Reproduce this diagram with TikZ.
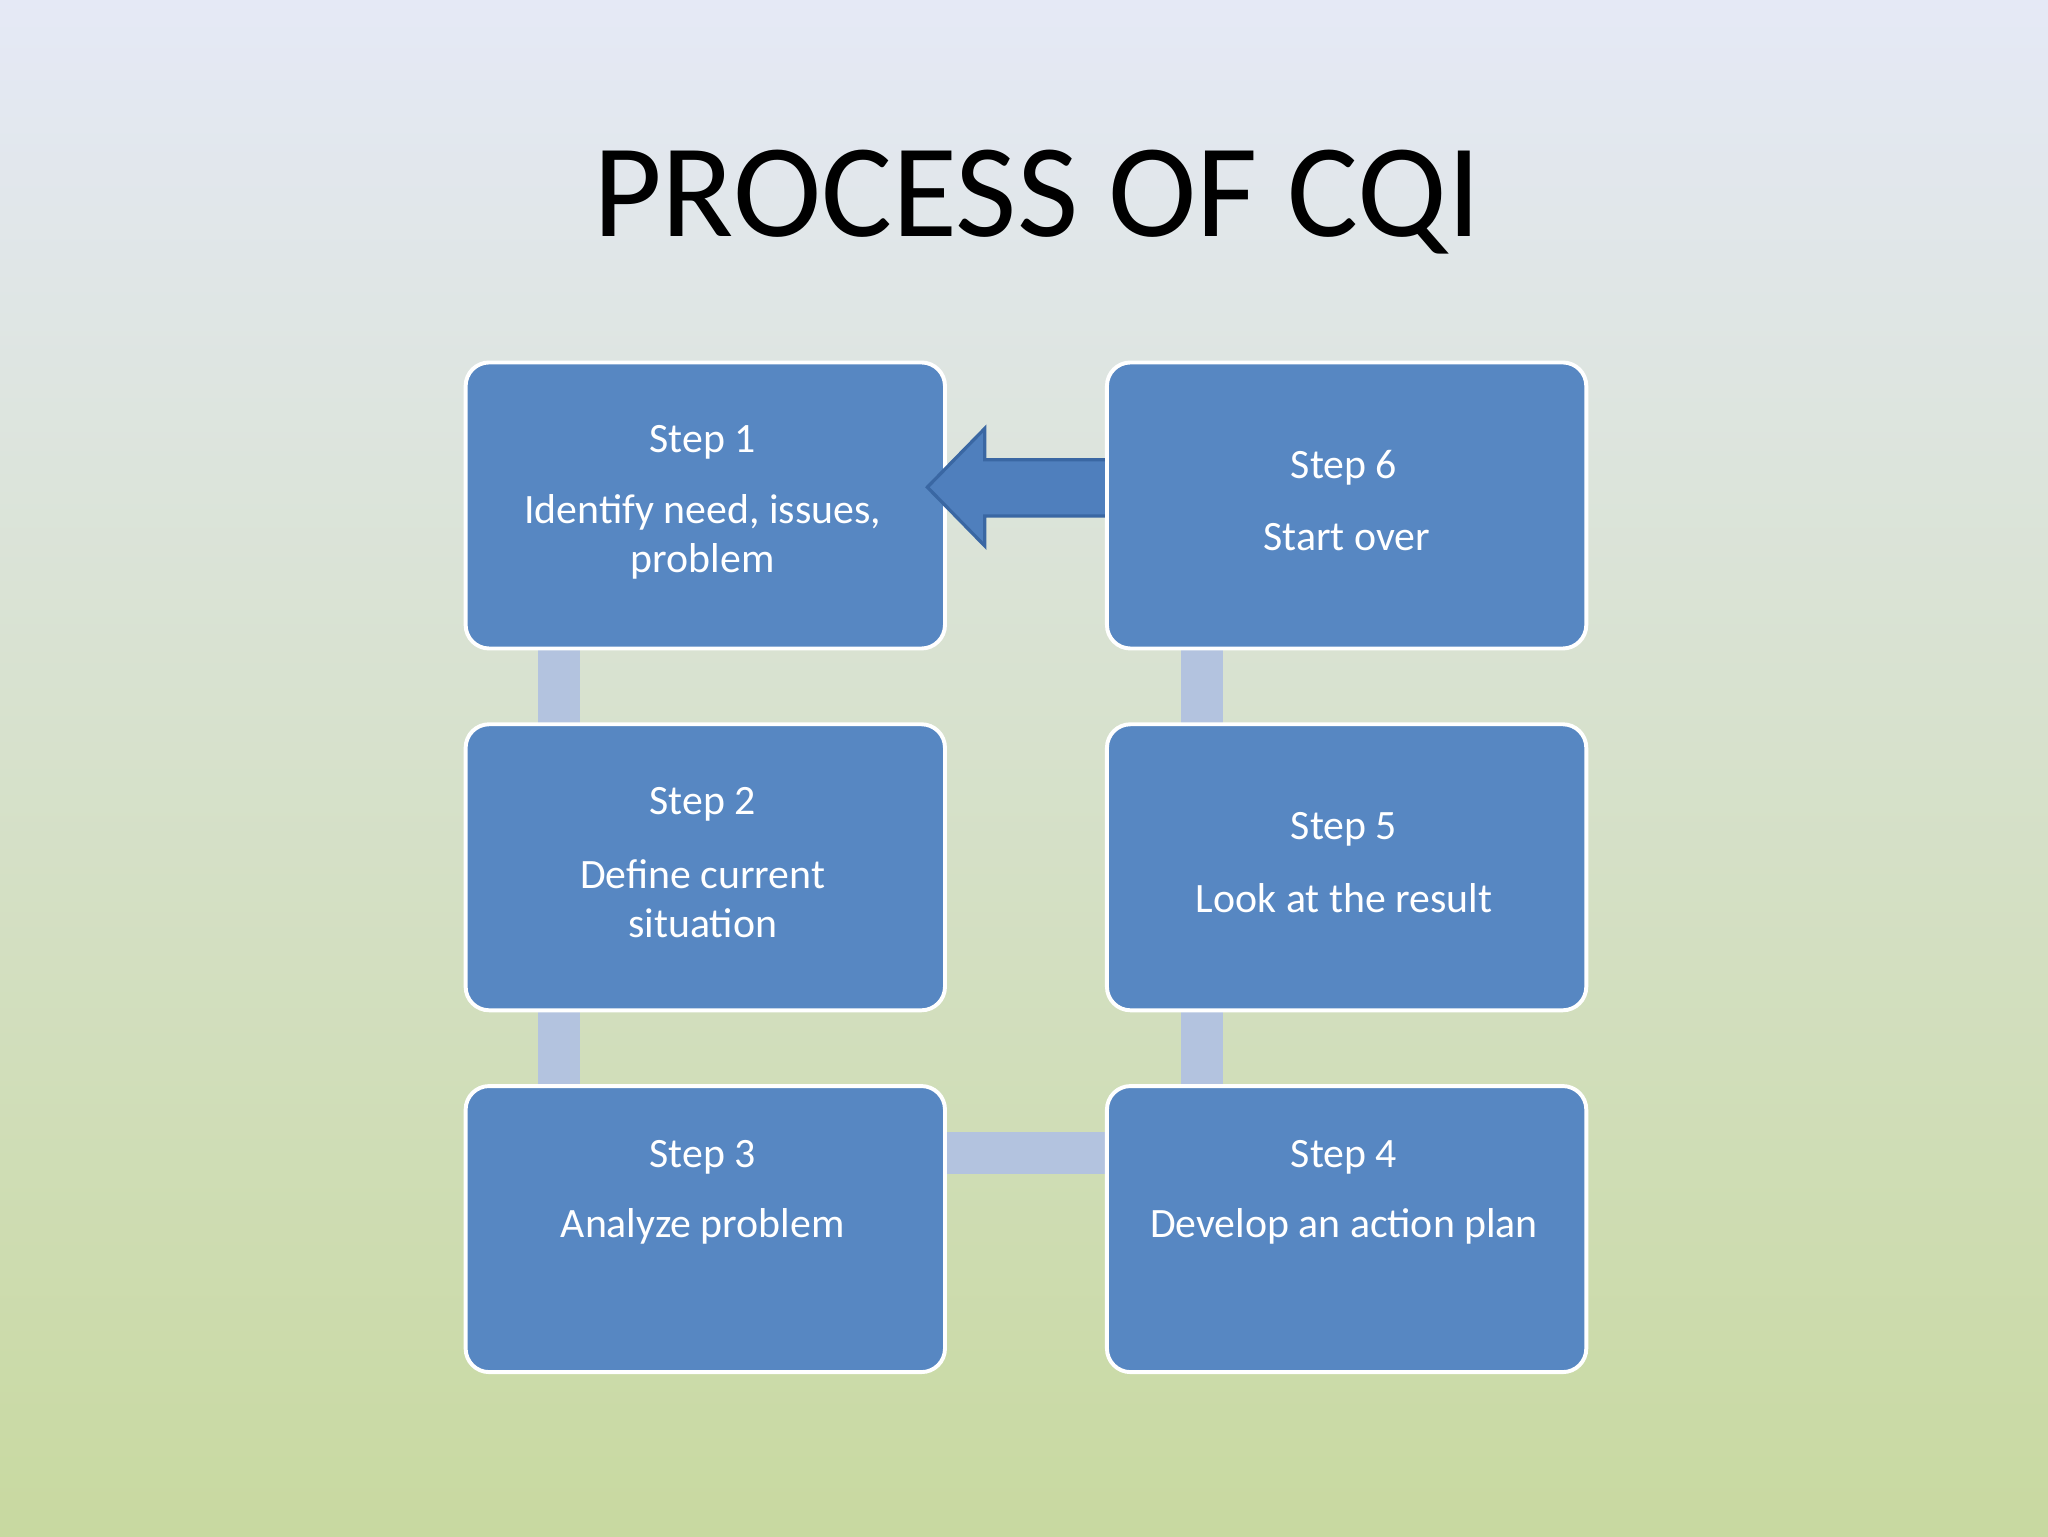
\documentclass[tikz,border=0pt]{standalone}
\usepackage{fontspec}
\setmainfont{Carlito}
\definecolor{boxblue}{HTML}{5787C2}
\definecolor{arrblue}{HTML}{4F7FBD}
\definecolor{arredge}{HTML}{3A67A3}
\definecolor{conn}{HTML}{B3C3DF}
\definecolor{bgtop}{HTML}{E5E9F6}
\definecolor{bgbot}{HTML}{C8D9A0}
\tikzset{
  stepbox/.style={draw=white,line width=3pt,fill=boxblue,rounded corners=18pt,minimum width=367pt,minimum height=219pt,anchor=north west},
  lbl/.style={text=white,font=\fontsize{32}{38}\selectfont,align=center},
  connbar/.style={fill=conn,draw=none}
}
\begin{document}
\begin{tikzpicture}[x=1pt,y=-1pt]
\shade[top color=bgtop,bottom color=bgbot] (0,0) rectangle (1568,1176);
\useasboundingbox (0,0) rectangle (1568,1176);
\node[font=\fontsize{102}{110}\selectfont] (title) at (794,155) {PROCESS OF CQI};
% connectors
\fill[connbar] (412,490) rectangle (444,558);
\fill[connbar] (412,767) rectangle (444,835);
\fill[connbar] (904,490) rectangle (936,558);
\fill[connbar] (904,767) rectangle (936,835);
\fill[connbar] (717,867) rectangle (851,899);
% boxes
\node[stepbox] (s1) at (355,276) {};
\node[stepbox] (s6) at (846,276) {};
\node[stepbox] (s2) at (355,553) {};
\node[stepbox] (s5) at (846,553) {};
\node[stepbox] (s3) at (355,830) {};
\node[stepbox] (s4) at (846,830) {};
% arrow
\draw[fill=arrblue,draw=arredge,line width=2.5pt,line join=miter]
  (s6.west |- 0,352) -- (754,352) -- (754,328) -- (710,373) -- (754,418) -- (754,395) -- (s6.west |- 0,395);
% labels
\node[lbl] (t1a) at (538,339) {Step 1};
\node[lbl] (t1b) at (538,411) {Identify need, issues,\\problem};
\node[lbl] (t2a) at (538,616) {Step 2};
\node[lbl] (t2b) at (538,688) {Define current\\situation};
\node[lbl] (t3a) at (538,886) {Step 3};
\node[lbl] (t3b) at (538,939) {Analyze problem};
\node[lbl] (t6a) at (1029,358) {Step 6};
\node[lbl] (t6b) at (1031,411) {Start over};
\node[lbl] (t5a) at (1029,635) {Step 5};
\node[lbl] (t5b) at (1029,688) {Look at the result};
\node[lbl] (t4a) at (1029,886) {Step 4};
\node[lbl] (t4b) at (1029,939) {Develop an action plan};
\end{tikzpicture}
\end{document}
